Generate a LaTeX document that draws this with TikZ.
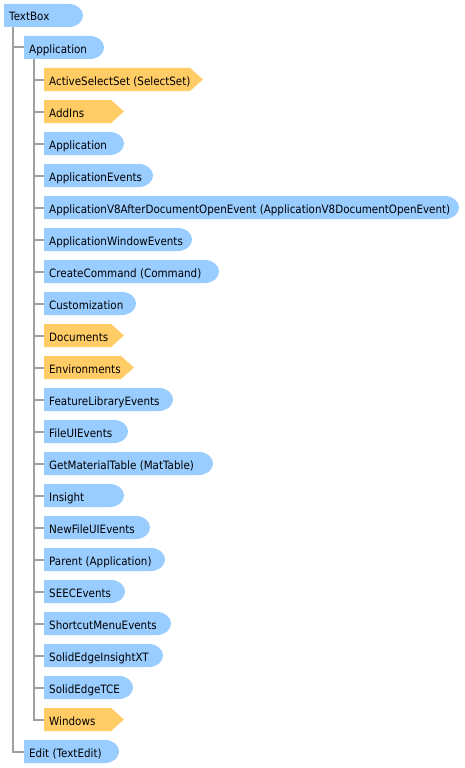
\documentclass[tikz,border=0pt]{standalone}
\usepackage{fontspec}
\setmainfont{DejaVu Sans}[FakeStretch=0.9]
\definecolor{blu}{RGB}{153,204,255}
\definecolor{org}{RGB}{255,204,102}
\definecolor{lin}{RGB}{160,160,160}
\pgfdeclarelayer{background}
\pgfsetlayers{background,main}
\tikzset{
  item/.style={anchor=west, inner xsep=5pt, inner ysep=0pt, text height=12pt, text depth=1pt,
    minimum height=23pt, font=\fontsize{11.5}{13}\selectfont, text=black},
  tree/.style={draw=lin, line width=2pt},
}
\begin{document}
\begin{tikzpicture}[x=1pt,y=-1pt]
\useasboundingbox (0,0) rectangle (464,768);
\node[item] (n0) at (4,15.5) {TextBox};
\node[item] (n1) at (24,47.5) {Application};
\node[item] (n2) at (44,79.5) {ActiveSelectSet (SelectSet)};
\node[item] (n3) at (44,111.5) {AddIns};
\node[item] (n4) at (44,143.5) {Application};
\node[item] (n5) at (44,175.5) {ApplicationEvents};
\node[item] (n6) at (44,207.5) {ApplicationV8AfterDocumentOpenEvent (ApplicationV8DocumentOpenEvent)};
\node[item] (n7) at (44,239.5) {ApplicationWindowEvents};
\node[item] (n8) at (44,271.5) {CreateCommand (Command)};
\node[item] (n9) at (44,303.5) {Customization};
\node[item] (n10) at (44,335.5) {Documents};
\node[item] (n11) at (44,367.5) {Environments};
\node[item] (n12) at (44,399.5) {FeatureLibraryEvents};
\node[item] (n13) at (44,431.5) {FileUIEvents};
\node[item] (n14) at (44,463.5) {GetMaterialTable (MatTable)};
\node[item] (n15) at (44,495.5) {Insight};
\node[item] (n16) at (44,527.5) {NewFileUIEvents};
\node[item] (n17) at (44,559.5) {Parent (Application)};
\node[item] (n18) at (44,591.5) {SEECEvents};
\node[item] (n19) at (44,623.5) {ShortcutMenuEvents};
\node[item] (n20) at (44,655.5) {SolidEdgeInsightXT};
\node[item] (n21) at (44,687.5) {SolidEdgeTCE};
\node[item] (n22) at (44,719.5) {Windows};
\node[item] (n23) at (24,751.5) {Edit (TextEdit)};
\begin{pgfonlayer}{background}
\foreach \n/\w in {n0/79,n1/80,n4/80,n5/109,n6/415,n7/148,n8/175,n9/92,n12/129,n13/84,n14/169,n15/80,n16/106,n17/121,n18/81,n19/127,n20/119,n21/89,n23/95}
  \fill[blu] ([yshift=11.5pt]\n.west) -- ++(\w-14,0)
     arc[start angle=90,end angle=-90,x radius=14pt,y radius=11.5pt]
     -- ([yshift=-11.5pt]\n.west) -- cycle;
\foreach \n/\w in {n2/159,n3/80,n10/80,n11/90,n22/80}
  \fill[org] ([yshift=11.5pt]\n.west) -- ++(\w-13,0) -- ++(13,11.5) -- ++(-13,11.5)
     -- ([yshift=-11.5pt]\n.west) -- cycle;
\draw[tree] ([xshift=9pt]n0.south west) |- (n1.west);
\draw[tree] ([xshift=9pt]n0.south west) |- (n23.west);
\foreach \c in {n2,n3,n4,n5,n6,n7,n8,n9,n10,n11,n12,n13,n14,n15,n16,n17,n18,n19,n20,n21,n22}
  \draw[tree] ([xshift=10pt]n1.south west) |- (\c.west);
\end{pgfonlayer}
\end{tikzpicture}
\end{document}
